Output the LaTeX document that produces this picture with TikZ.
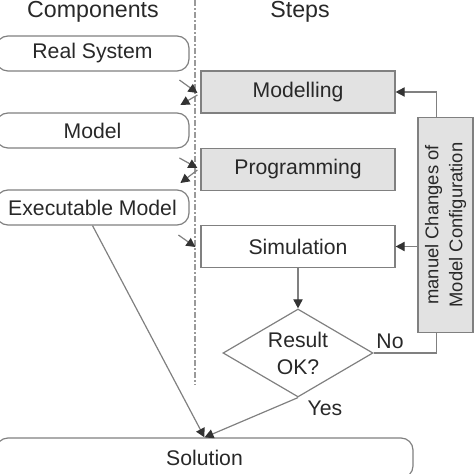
\documentclass[tikz,border=0pt]{standalone}
\usepackage{fontspec}
\setmainfont{Liberation Sans}
\usepackage{graphicx}
\usetikzlibrary{arrows.meta,shapes.geometric,calc}
\definecolor{linegray}{RGB}{128,128,128}
\definecolor{boxgray}{RGB}{226,226,226}
\definecolor{textgray}{RGB}{40,40,40}
\begin{document}
\begin{tikzpicture}[x=0.5pt, y=-0.5pt, line width=0.6pt,
    every node/.style={text=textgray, font=\fontsize{10.6}{13.5}\selectfont},
    comp/.style={draw=linegray, rounded corners=6pt, minimum width=96.5pt, minimum height=17.5pt, inner sep=0pt},
    stepbox/.style={draw=linegray, minimum width=97pt, minimum height=21pt, inner sep=0pt},
    tip/.style={linegray, -{Triangle[length=4.5pt,width=4.6pt,color=black!80]}}]

                \useasboundingbox (0,0) rectangle (474,474);

                \node[font=\fontsize{11.6}{14}\selectfont] (components) at (93,12) {Components};
                \node[font=\fontsize{11.6}{14}\selectfont] (steps) at (300,12) {Steps};
                \draw[linegray!80, dash pattern=on 3pt off 1.2pt on 0.6pt off 1.2pt] (195,0) to (195,385);

                \node[comp] (real) at (92.5,53.5) {Real System};
                \node[comp] (model) at (92.5,130.5) {Model};
                \node[comp] (exec) at (92.5,207.5) {Executable Model};
                \node[comp, minimum width=208.5pt, minimum height=20pt] (solution) at (204.5,458) {Solution};

                \node[stepbox, fill=boxgray] (modelling) at (298,92) {Modelling};
                \node[stepbox, fill=boxgray] (programming) at (298,169.5) {Programming};
                \node[stepbox] (simulation) at (298,246.5) {Simulation};
                \node[draw=linegray, fill=boxgray, minimum width=27.5pt, minimum height=107.5pt, inner sep=0pt,
                      font=\fontsize{9.2}{12}\selectfont] (config) at (445.5,225)
                      {\rotatebox{90}{\begin{tabular}{@{}c@{}}manuel Changes of\\Model Configuration\end{tabular}}};
                \node[draw=linegray, shape=diamond, aspect=1.7, minimum width=75pt, minimum height=44pt,
                      inner sep=0pt, align=center] (result) at (298,353) {Result\\OK?};

                   \draw[tip] ($(modelling.west)+(-21,-12)$) to ($(modelling.west)+(-3,1)$);
                   \draw[tip] ($(modelling.west)+(-3,3)$) to ($(modelling.west)+(-20,13)$);
                   \draw[tip] ($(programming.west)+(-21,-11.5)$) to ($(programming.west)+(-3,-1.5)$);
                   \draw[tip] ($(programming.west)+(-3,0.5)$) to ($(programming.west)+(-20,13.5)$);
                   \draw[tip] ($(simulation.west)+(-22,-11.5)$) to ($(simulation.west)+(-5,0.5)$);

                   \draw[tip] (simulation.south) to (result.north);
                   \draw[tip] (result.south) to (solution.north);
                       \node (yes) at (325,408) {Yes};
                   \draw[tip] (exec.south) to (solution.north);
                   \draw[linegray] ([xshift=-4.5pt]config.south) |- (result.east);
                       \node (no) at (390,341) {No};
                   \draw[tip] ([xshift=-4.5pt]config.north) |- (modelling.east);
                   \draw[tip] (config.west |- simulation.east) to (simulation.east);

\end{tikzpicture}
\end{document}
